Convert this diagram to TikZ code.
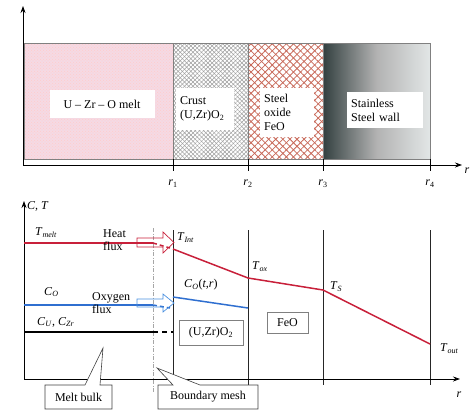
\documentclass[tikz,border=0pt]{standalone}
\usepackage{fontspec}
\setmainfont{Liberation Serif}
\usetikzlibrary{patterns,patterns.meta,arrows.meta}
\definecolor{tred}{HTML}{C8203A}
\definecolor{oblue}{HTML}{2F6FD0}
\definecolor{lblue}{HTML}{4A90E0}
\definecolor{meltpink}{HTML}{F5DAE4}
\definecolor{feored}{HTML}{C86858}
\definecolor{steeldark}{HTML}{334040}
\definecolor{steellight}{HTML}{E2E6E6}
\newcommand\vsub[2]{\textit{#1}\textsubscript{\textit{#2}}}
\tikzset{
  axis/.style={line width=0.8pt,-{Stealth[length=7pt,width=5pt]}},
  lbl/.style={inner sep=0pt,font=\fontsize{12}{13}\selectfont},
  wbox/.style={fill=white,inner sep=0pt,font=\fontsize{12}{14}\selectfont,align=left},
  gbox/.style={draw=gray,fill=white,line width=0.6pt},
  rline/.style={line width=0.8pt,black!85},
  callout/.style={draw=black!75,fill=white,line width=0.6pt},
  curve/.style={line width=1.5pt},
}
\begin{document}
\begin{tikzpicture}[x=1pt,y=-1pt]
\useasboundingbox (0,0) rectangle (474,415);
% ---------- top panel ----------
\fill[meltpink] (24,43) rectangle (173,159);
\fill[pattern=crosshatch dots,pattern color=pink!80!red!50] (24,43) rectangle (173,159);
\fill[white] (173,43) rectangle (248,159);
\fill[pattern={Lines[angle=45,distance=3pt,line width=0.5pt]},pattern color=gray!75] (173,43) rectangle (248,159);
\fill[pattern={Lines[angle=-45,distance=3pt,line width=0.5pt]},pattern color=gray!75] (173,43) rectangle (248,159);
\fill[white] (248,43) rectangle (323,159);
\fill[pattern={Lines[angle=45,distance=5pt,line width=0.8pt]},pattern color=feored] (248,43) rectangle (323,159);
\fill[pattern={Lines[angle=-45,distance=5pt,line width=0.8pt]},pattern color=feored] (248,43) rectangle (323,159);
\shade[left color=steeldark,right color=steellight,middle color=gray!60] (323,43) rectangle (430,159);
\draw[gray,line width=0.6pt] (24,43) rectangle (430,159);
\draw[gray,line width=0.5pt] (173,43) -- (173,159) (248,43) -- (248,159) (323,43) -- (323,159);
\node[wbox,minimum width=105,minimum height=28,align=center] (melt) at (102,104) {U -- Zr -- O melt};
\node[wbox,minimum width=58,minimum height=42,anchor=north west,text width=50,inner sep=4pt] (crust) at (176,88) {Crust\\(U,Zr)O\textsubscript{2}};
\node[wbox,minimum width=53,minimum height=49,anchor=north west,text width=46,inner sep=4pt] (oxide) at (260,88) {Steel\\oxide\\FeO};
\node[wbox,minimum width=75,minimum height=36,anchor=north west,text width=68,inner sep=4pt] (wall) at (347,92) {Stainless\\Steel wall};
\coordinate (o1) at (23,165);
\coordinate (y1) at (23,6);
\coordinate (x1) at (462,165);
\draw[axis] (o1) -- (y1);
\draw[axis] (o1) -- (x1);
\node[lbl] (rtop) at (467,171) {\textit{r}};
\foreach \x/\n in {173/1,248/2,323/3,430/4}{
  \draw[line width=0.7pt] (\x,159) -- (\x,171);
  \node[lbl] (r\n) at (\x,184) {\textit{r}\textsubscript{\n}};
}
% ---------- bottom panel ----------
\coordinate (o2) at (24,379);
\coordinate (y2) at (24,201);
\coordinate (x2) at (460,379);
\draw[rline] (173,230) -- (173,379);
\foreach \x in {248,323,430}{\draw[rline] (\x,230) -- (\x,385);}
\draw[gray!70,line width=0.5pt,dash pattern=on 4pt off 1.5pt on 1pt off 1.5pt] (153,228) -- (153,392);
\draw[axis] (o2) -- (y2);
\draw[axis] (o2) -- (x2);
\node[lbl,anchor=west] (ct) at (27,206) {\textit{C, T}};
\node[lbl] (rbot) at (459,395) {\textit{r}};
% temperature
\draw[tred,curve] (24,243) -- (153,243);
\draw[tred,curve,dash pattern=on 4pt off 3pt] (153,243) -- (170,248);
\draw[tred,curve] (173,249) -- (248,278) -- (323,290) -- (430,344);
\draw[tred,line width=0.7pt] (137,238) -- (163,238) -- (163,232) -- (174,242.5) -- (163,253) -- (163,247) -- (137,247) -- cycle;
% oxygen
\draw[oblue,curve] (24,305) -- (153,305);
\draw[oblue,curve,dash pattern=on 4pt off 3pt] (153,305) -- (170,308);
\draw[oblue,curve] (173,297) -- (248,308);
\draw[lblue,line width=0.7pt] (137,299) -- (163,299) -- (163,294) -- (174,303) -- (163,312) -- (163,307) -- (137,307) -- cycle;
% U, Zr
\draw[black,line width=1.8pt] (24,332) -- (153,332);
\draw[black,line width=1.8pt,dash pattern=on 5pt off 4pt] (153,332) -- (173,332);
% labels
\node[lbl,anchor=west] (tmelt) at (35,233) {\vsub{T}{melt}};
\node[lbl,anchor=north west,align=left] (heat) at (103,229) {Heat\\flux};
\node[lbl,anchor=west] (tint) at (177,238) {\vsub{T}{Int}};
\node[lbl,anchor=west] (co) at (44,292) {\vsub{C}{O}};
\node[lbl,anchor=north west,align=left] (oxy) at (92,292) {Oxygen\\flux};
\node[lbl,anchor=west] (cuzr) at (37,322) {\vsub{C}{U}, \vsub{C}{Zr}};
\node[lbl,anchor=west] (cotr) at (184,285) {\vsub{C}{O}(\textit{t,r})};
\node[lbl,anchor=west] (tox) at (252,267) {\vsub{T}{ox}};
\node[lbl,anchor=west] (ts) at (330,287) {\vsub{T}{S}};
\node[lbl,anchor=west] (tout) at (440,349) {\vsub{T}{out}};
\draw[gbox] (179,320) rectangle (243,345);
\node[lbl] (uzr) at (211,332.5) {(U,Zr)O\textsubscript{2}};
\draw[gbox] (267,312) rectangle (308,333);
\node[lbl] (feo) at (287.5,322.5) {FeO};
% callouts
\draw[callout] (45,385) -- (85,385) -- (103,348) -- (100,385) -- (112,385) -- (112,409) -- (45,409) -- cycle;
\node[lbl] (bulk) at (78.5,397) {Melt bulk};
\draw[callout] (158,385) -- (173,385) -- (157,368) -- (200,385) -- (258,385) -- (258,409) -- (158,409) -- cycle;
\node[lbl] (mesh) at (208,397) {Boundary mesh};
\end{tikzpicture}
\end{document}
